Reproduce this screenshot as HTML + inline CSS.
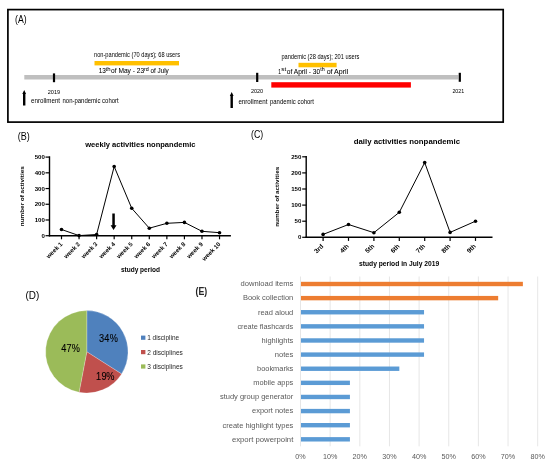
<!DOCTYPE html>
<html><head><meta charset="utf-8"><title>Figure</title>
<style>
html,body{margin:0;padding:0;background:#fff;}
svg{display:block;}
text{font-family:"Liberation Sans", Arial, sans-serif;}
</style></head>
<body>
<svg width="550" height="465" viewBox="0 0 550 465">
<rect width="550" height="465" fill="#fff"/>
<rect x="7.9" y="9.6" width="495.3" height="112.5" fill="none" stroke="#000" stroke-width="1.7"/>
<text x="15.1" y="22.7" font-size="10.4" textLength="11.6" lengthAdjust="spacingAndGlyphs">(A)</text>
<rect x="24.30" y="75.00" width="434.00" height="4.50" fill="#BFBFBF"/>
<rect x="52.90" y="73.40" width="2.20" height="8.80" fill="#000"/>
<rect x="256.10" y="72.80" width="2.20" height="9.20" fill="#000"/>
<rect x="458.70" y="72.80" width="2.20" height="9.00" fill="#000"/>
<rect x="94.50" y="61.00" width="84.50" height="4.40" fill="#FFC000"/>
<rect x="298.50" y="62.80" width="38.10" height="4.50" fill="#FFC000"/>
<rect x="271.30" y="82.20" width="139.60" height="5.40" fill="#FF0000"/>
<text x="94.0" y="56.8" font-size="6.5" textLength="86" lengthAdjust="spacingAndGlyphs">non-pandemic (70 days); 68 users</text>
<text x="98.65" y="73.3" font-size="7.3" stroke="#000" stroke-width="0.05" textLength="7.1" lengthAdjust="spacingAndGlyphs">13</text>
<text x="111.05" y="73.3" font-size="7.3" stroke="#000" stroke-width="0.05" textLength="33.0" lengthAdjust="spacingAndGlyphs">of May - 23</text>
<text x="150.45" y="73.3" font-size="7.3" stroke="#000" stroke-width="0.05" textLength="18.3" lengthAdjust="spacingAndGlyphs">of July</text>
<text x="105.55" y="70.6" font-size="4.6" stroke="#000" stroke-width="0.03" textLength="5.0" lengthAdjust="spacingAndGlyphs">th</text>
<text x="143.95" y="70.6" font-size="4.6" stroke="#000" stroke-width="0.03" textLength="4.8" lengthAdjust="spacingAndGlyphs">rd</text>
<text x="278.35" y="73.6" font-size="7.3" stroke="#000" stroke-width="0.05" textLength="2.7" lengthAdjust="spacingAndGlyphs">1</text>
<text x="286.75" y="73.6" font-size="7.3" stroke="#000" stroke-width="0.05" textLength="33.5" lengthAdjust="spacingAndGlyphs">of April - 30</text>
<text x="326.65" y="73.6" font-size="7.3" stroke="#000" stroke-width="0.05" textLength="21.6" lengthAdjust="spacingAndGlyphs">of April</text>
<text x="281.25" y="71.1" font-size="4.6" stroke="#000" stroke-width="0.03" textLength="4.9" lengthAdjust="spacingAndGlyphs">st</text>
<text x="320.15" y="71.1" font-size="4.6" stroke="#000" stroke-width="0.03" textLength="4.5" lengthAdjust="spacingAndGlyphs">th</text>
<text x="281.4" y="59.1" font-size="6.5" textLength="78" lengthAdjust="spacingAndGlyphs">pandemic (28 days); 201 users</text>
<text x="47.7" y="94.4" font-size="6.2" textLength="12.4" lengthAdjust="spacingAndGlyphs">2019</text>
<text x="250.9" y="93.1" font-size="6.2" textLength="12.3" lengthAdjust="spacingAndGlyphs">2020</text>
<text x="452.4" y="93.3" font-size="6.2" textLength="11.8" lengthAdjust="spacingAndGlyphs">2021</text>
<text x="31.1" y="102.7" font-size="6.3" textLength="29.0" lengthAdjust="spacingAndGlyphs">enrollment</text>
<text x="62.5" y="102.7" font-size="6.3" textLength="56.2" lengthAdjust="spacingAndGlyphs">non-pandemic cohort</text>
<text x="238.4" y="104.3" font-size="6.3" textLength="29.0" lengthAdjust="spacingAndGlyphs">enrollment</text>
<text x="270.0" y="104.3" font-size="6.3" textLength="44.0" lengthAdjust="spacingAndGlyphs">pandemic cohort</text>
<path d="M23.00 105.60V93.90H22.30L24.20 89.90L26.10 93.90H25.40V105.60Z" fill="#000"/>
<path d="M230.50 107.90V95.90H229.80L231.70 91.90L233.60 95.90H232.90V107.90Z" fill="#000"/>
<text x="17.8" y="139.6" font-size="10.4" textLength="12.0" lengthAdjust="spacingAndGlyphs">(B)</text>
<text x="85.2" y="146.9" font-size="7.0" font-weight="bold" textLength="110.3" lengthAdjust="spacingAndGlyphs">weekly activities nonpandemic</text>
<line x1="49.50" y1="156.30" x2="49.50" y2="236.40" stroke="#000" stroke-width="1.4"/>
<line x1="48.80" y1="235.70" x2="230.90" y2="235.70" stroke="#000" stroke-width="1.4"/>
<line x1="45.50" y1="235.70" x2="49.50" y2="235.70" stroke="#000" stroke-width="1.2"/>
<text x="44.8" y="237.79999999999998" font-size="6.1" text-anchor="end" font-weight="bold">0</text>
<line x1="45.50" y1="219.98" x2="49.50" y2="219.98" stroke="#000" stroke-width="1.2"/>
<text x="44.8" y="222.07999999999998" font-size="6.1" text-anchor="end" font-weight="bold">100</text>
<line x1="45.50" y1="204.26" x2="49.50" y2="204.26" stroke="#000" stroke-width="1.2"/>
<text x="44.8" y="206.35999999999999" font-size="6.1" text-anchor="end" font-weight="bold">200</text>
<line x1="45.50" y1="188.54" x2="49.50" y2="188.54" stroke="#000" stroke-width="1.2"/>
<text x="44.8" y="190.64" font-size="6.1" text-anchor="end" font-weight="bold">300</text>
<line x1="45.50" y1="172.82" x2="49.50" y2="172.82" stroke="#000" stroke-width="1.2"/>
<text x="44.8" y="174.92" font-size="6.1" text-anchor="end" font-weight="bold">400</text>
<line x1="45.50" y1="157.10" x2="49.50" y2="157.10" stroke="#000" stroke-width="1.2"/>
<text x="44.8" y="159.19999999999996" font-size="6.1" text-anchor="end" font-weight="bold">500</text>
<text x="23.6" y="196.2" font-size="6.0" text-anchor="middle" font-weight="bold" textLength="60" lengthAdjust="spacingAndGlyphs" transform="rotate(-90 23.6 196.2)">number of activities</text>
<line x1="61.50" y1="235.70" x2="61.50" y2="239.30" stroke="#000" stroke-width="1.2"/>
<text x="62.9" y="244.6" font-size="6.1" text-anchor="end" font-weight="bold" transform="rotate(-45 62.9 244.6)">week 1</text>
<line x1="79.06" y1="235.70" x2="79.06" y2="239.30" stroke="#000" stroke-width="1.2"/>
<text x="80.46000000000001" y="244.6" font-size="6.1" text-anchor="end" font-weight="bold" transform="rotate(-45 80.46000000000001 244.6)">week 2</text>
<line x1="96.62" y1="235.70" x2="96.62" y2="239.30" stroke="#000" stroke-width="1.2"/>
<text x="98.02000000000001" y="244.6" font-size="6.1" text-anchor="end" font-weight="bold" transform="rotate(-45 98.02000000000001 244.6)">week 3</text>
<line x1="114.18" y1="235.70" x2="114.18" y2="239.30" stroke="#000" stroke-width="1.2"/>
<text x="115.58" y="244.6" font-size="6.1" text-anchor="end" font-weight="bold" transform="rotate(-45 115.58 244.6)">week 4</text>
<line x1="131.74" y1="235.70" x2="131.74" y2="239.30" stroke="#000" stroke-width="1.2"/>
<text x="133.14000000000001" y="244.6" font-size="6.1" text-anchor="end" font-weight="bold" transform="rotate(-45 133.14000000000001 244.6)">week 5</text>
<line x1="149.30" y1="235.70" x2="149.30" y2="239.30" stroke="#000" stroke-width="1.2"/>
<text x="150.70000000000002" y="244.6" font-size="6.1" text-anchor="end" font-weight="bold" transform="rotate(-45 150.70000000000002 244.6)">week 6</text>
<line x1="166.86" y1="235.70" x2="166.86" y2="239.30" stroke="#000" stroke-width="1.2"/>
<text x="168.26" y="244.6" font-size="6.1" text-anchor="end" font-weight="bold" transform="rotate(-45 168.26 244.6)">week 7</text>
<line x1="184.42" y1="235.70" x2="184.42" y2="239.30" stroke="#000" stroke-width="1.2"/>
<text x="185.82" y="244.6" font-size="6.1" text-anchor="end" font-weight="bold" transform="rotate(-45 185.82 244.6)">week 8</text>
<line x1="201.98" y1="235.70" x2="201.98" y2="239.30" stroke="#000" stroke-width="1.2"/>
<text x="203.38" y="244.6" font-size="6.1" text-anchor="end" font-weight="bold" transform="rotate(-45 203.38 244.6)">week 9</text>
<line x1="219.54" y1="235.70" x2="219.54" y2="239.30" stroke="#000" stroke-width="1.2"/>
<text x="220.94" y="244.6" font-size="6.1" text-anchor="end" font-weight="bold" transform="rotate(-45 220.94 244.6)">week 10</text>
<polyline points="61.50,229.50 79.06,235.60 96.62,234.50 114.18,166.50 131.74,208.30 149.30,228.20 166.86,223.30 184.42,222.40 201.98,231.30 219.54,232.70" fill="none" stroke="#000" stroke-width="1.0"/>
<circle cx="61.50" cy="229.50" r="1.8" fill="#000"/>
<circle cx="79.06" cy="235.60" r="1.8" fill="#000"/>
<circle cx="96.62" cy="234.50" r="1.8" fill="#000"/>
<circle cx="114.18" cy="166.50" r="1.8" fill="#000"/>
<circle cx="131.74" cy="208.30" r="1.8" fill="#000"/>
<circle cx="149.30" cy="228.20" r="1.8" fill="#000"/>
<circle cx="166.86" cy="223.30" r="1.8" fill="#000"/>
<circle cx="184.42" cy="222.40" r="1.8" fill="#000"/>
<circle cx="201.98" cy="231.30" r="1.8" fill="#000"/>
<circle cx="219.54" cy="232.70" r="1.8" fill="#000"/>
<path d="M112.3 213.4H114.8V225.3H116.5L113.55 229.9L110.6 225.3H112.3Z" fill="#000"/>
<text x="120.9" y="272.1" font-size="6.8" font-weight="bold" textLength="39.1" lengthAdjust="spacingAndGlyphs">study period</text>
<text x="251.0" y="137.6" font-size="10.4" textLength="12.2" lengthAdjust="spacingAndGlyphs">(C)</text>
<text x="353.7" y="144.3" font-size="7.0" font-weight="bold" textLength="106.4" lengthAdjust="spacingAndGlyphs">daily activities nonpandemic</text>
<line x1="306.20" y1="156.00" x2="306.20" y2="238.00" stroke="#000" stroke-width="1.4"/>
<line x1="305.50" y1="237.30" x2="492.50" y2="237.30" stroke="#000" stroke-width="1.4"/>
<line x1="302.20" y1="237.30" x2="306.20" y2="237.30" stroke="#000" stroke-width="1.2"/>
<text x="301.3" y="239.4" font-size="6.1" text-anchor="end" font-weight="bold">0</text>
<line x1="302.20" y1="221.20" x2="306.20" y2="221.20" stroke="#000" stroke-width="1.2"/>
<text x="301.3" y="223.3" font-size="6.1" text-anchor="end" font-weight="bold">50</text>
<line x1="302.20" y1="205.10" x2="306.20" y2="205.10" stroke="#000" stroke-width="1.2"/>
<text x="301.3" y="207.20000000000002" font-size="6.1" text-anchor="end" font-weight="bold">100</text>
<line x1="302.20" y1="189.00" x2="306.20" y2="189.00" stroke="#000" stroke-width="1.2"/>
<text x="301.3" y="191.1" font-size="6.1" text-anchor="end" font-weight="bold">150</text>
<line x1="302.20" y1="172.90" x2="306.20" y2="172.90" stroke="#000" stroke-width="1.2"/>
<text x="301.3" y="175.0" font-size="6.1" text-anchor="end" font-weight="bold">200</text>
<line x1="302.20" y1="156.80" x2="306.20" y2="156.80" stroke="#000" stroke-width="1.2"/>
<text x="301.3" y="158.9" font-size="6.1" text-anchor="end" font-weight="bold">250</text>
<text x="279.5" y="196.8" font-size="6.0" text-anchor="middle" font-weight="bold" textLength="60" lengthAdjust="spacingAndGlyphs" transform="rotate(-90 279.5 196.8)">number of activities</text>
<line x1="323.10" y1="237.30" x2="323.10" y2="240.90" stroke="#000" stroke-width="1.2"/>
<text x="323.90000000000003" y="246.6" font-size="6.5" text-anchor="end" font-weight="bold" transform="rotate(-45 323.90000000000003 246.6)">3rd</text>
<line x1="348.50" y1="237.30" x2="348.50" y2="240.90" stroke="#000" stroke-width="1.2"/>
<text x="349.3" y="246.6" font-size="6.5" text-anchor="end" font-weight="bold" transform="rotate(-45 349.3 246.6)">4th</text>
<line x1="373.90" y1="237.30" x2="373.90" y2="240.90" stroke="#000" stroke-width="1.2"/>
<text x="374.70000000000005" y="246.6" font-size="6.5" text-anchor="end" font-weight="bold" transform="rotate(-45 374.70000000000005 246.6)">5th</text>
<line x1="399.30" y1="237.30" x2="399.30" y2="240.90" stroke="#000" stroke-width="1.2"/>
<text x="400.1" y="246.6" font-size="6.5" text-anchor="end" font-weight="bold" transform="rotate(-45 400.1 246.6)">6th</text>
<line x1="424.70" y1="237.30" x2="424.70" y2="240.90" stroke="#000" stroke-width="1.2"/>
<text x="425.50000000000006" y="246.6" font-size="6.5" text-anchor="end" font-weight="bold" transform="rotate(-45 425.50000000000006 246.6)">7th</text>
<line x1="450.10" y1="237.30" x2="450.10" y2="240.90" stroke="#000" stroke-width="1.2"/>
<text x="450.90000000000003" y="246.6" font-size="6.5" text-anchor="end" font-weight="bold" transform="rotate(-45 450.90000000000003 246.6)">8th</text>
<line x1="475.50" y1="237.30" x2="475.50" y2="240.90" stroke="#000" stroke-width="1.2"/>
<text x="476.3" y="246.6" font-size="6.5" text-anchor="end" font-weight="bold" transform="rotate(-45 476.3 246.6)">9th</text>
<polyline points="323.10,234.40 348.50,224.50 373.90,232.70 399.30,212.30 424.70,162.60 450.10,232.40 475.50,221.20" fill="none" stroke="#000" stroke-width="1.0"/>
<circle cx="323.10" cy="234.40" r="1.8" fill="#000"/>
<circle cx="348.50" cy="224.50" r="1.8" fill="#000"/>
<circle cx="373.90" cy="232.70" r="1.8" fill="#000"/>
<circle cx="399.30" cy="212.30" r="1.8" fill="#000"/>
<circle cx="424.70" cy="162.60" r="1.8" fill="#000"/>
<circle cx="450.10" cy="232.40" r="1.8" fill="#000"/>
<circle cx="475.50" cy="221.20" r="1.8" fill="#000"/>
<text x="359.0" y="266.3" font-size="6.8" font-weight="bold" textLength="80.2" lengthAdjust="spacingAndGlyphs">study period in July 2019</text>
<text x="25.5" y="299.2" font-size="10.4" textLength="13.8" lengthAdjust="spacingAndGlyphs">(D)</text>
<path d="M86.8 351.8L86.80 310.60A41.2 41.2 0 0 1 121.59 373.88Z" fill="#4F81BD" stroke="#fff" stroke-width="0.5" stroke-opacity="0.45"/>
<path d="M86.8 351.8L121.59 373.88A41.2 41.2 0 0 1 79.08 392.27Z" fill="#C0504D" stroke="#fff" stroke-width="0.5" stroke-opacity="0.45"/>
<path d="M86.8 351.8L79.08 392.27A41.2 41.2 0 0 1 86.80 310.60Z" fill="#9BBB59" stroke="#fff" stroke-width="0.5" stroke-opacity="0.45"/>
<text x="98.91 104.84 110.93" y="342.3" font-size="10.2" stroke="#000" stroke-width="0.1" transform="translate(99.3 0) scale(0.9 1) translate(-99.3 0)">34%</text>
<text x="61.27 67.09 73.02" y="352.0" font-size="10.2" stroke="#000" stroke-width="0.1" transform="translate(61.5 0) scale(0.9 1) translate(-61.5 0)">47%</text>
<text x="96.02 102.10 107.43" y="380.0" font-size="10.2" stroke="#000" stroke-width="0.1" transform="translate(96.8 0) scale(0.9 1) translate(-96.8 0)">19%</text>
<rect x="141.00" y="335.60" width="4.40" height="4.20" fill="#4F81BD"/>
<text x="147.2" y="340.40000000000003" font-size="7.2" fill="#262626" textLength="32.0" lengthAdjust="spacingAndGlyphs">1 discipline</text>
<rect x="141.00" y="350.00" width="4.40" height="4.20" fill="#C0504D"/>
<text x="147.2" y="354.8" font-size="7.2" fill="#262626" textLength="35.6" lengthAdjust="spacingAndGlyphs">2 disciplines</text>
<rect x="141.00" y="364.40" width="4.40" height="4.20" fill="#9BBB59"/>
<text x="147.2" y="369.20000000000005" font-size="7.2" fill="#262626" textLength="35.6" lengthAdjust="spacingAndGlyphs">3 disciplines</text>
<text x="195.6" y="294.7" font-size="10.2" font-weight="bold" fill="#262626" textLength="11.7" lengthAdjust="spacingAndGlyphs">(E)</text>
<line x1="300.50" y1="276.50" x2="300.50" y2="446.30" stroke="#E0E0E0" stroke-width="0.8"/>
<line x1="330.15" y1="276.50" x2="330.15" y2="446.30" stroke="#E0E0E0" stroke-width="0.8"/>
<line x1="359.80" y1="276.50" x2="359.80" y2="446.30" stroke="#E0E0E0" stroke-width="0.8"/>
<line x1="389.45" y1="276.50" x2="389.45" y2="446.30" stroke="#E0E0E0" stroke-width="0.8"/>
<line x1="419.10" y1="276.50" x2="419.10" y2="446.30" stroke="#E0E0E0" stroke-width="0.8"/>
<line x1="448.75" y1="276.50" x2="448.75" y2="446.30" stroke="#E0E0E0" stroke-width="0.8"/>
<line x1="478.40" y1="276.50" x2="478.40" y2="446.30" stroke="#E0E0E0" stroke-width="0.8"/>
<line x1="508.05" y1="276.50" x2="508.05" y2="446.30" stroke="#E0E0E0" stroke-width="0.8"/>
<line x1="537.70" y1="276.50" x2="537.70" y2="446.30" stroke="#E0E0E0" stroke-width="0.8"/>
<rect x="301.00" y="281.80" width="221.87" height="4.40" fill="#ED7D31"/>
<text x="293.3" y="286.3" font-size="8.0" text-anchor="end" fill="#595959" textLength="52.8" lengthAdjust="spacingAndGlyphs">download items</text>
<rect x="301.00" y="295.92" width="197.17" height="4.40" fill="#ED7D31"/>
<text x="293.3" y="300.42" font-size="8.0" text-anchor="end" fill="#595959" textLength="50.4" lengthAdjust="spacingAndGlyphs">Book collection</text>
<rect x="301.00" y="310.04" width="123.04" height="4.40" fill="#5B9BD5"/>
<text x="293.3" y="314.54" font-size="8.0" text-anchor="end" fill="#595959" textLength="35.4" lengthAdjust="spacingAndGlyphs">read aloud</text>
<rect x="301.00" y="324.16" width="123.04" height="4.40" fill="#5B9BD5"/>
<text x="293.3" y="328.66" font-size="8.0" text-anchor="end" fill="#595959" textLength="55.9" lengthAdjust="spacingAndGlyphs">create flashcards</text>
<rect x="301.00" y="338.28" width="123.04" height="4.40" fill="#5B9BD5"/>
<text x="293.3" y="342.78000000000003" font-size="8.0" text-anchor="end" fill="#595959" textLength="31.7" lengthAdjust="spacingAndGlyphs">highlights</text>
<rect x="301.00" y="352.40" width="123.04" height="4.40" fill="#5B9BD5"/>
<text x="293.3" y="356.9" font-size="8.0" text-anchor="end" fill="#595959" textLength="18.6" lengthAdjust="spacingAndGlyphs">notes</text>
<rect x="301.00" y="366.52" width="98.33" height="4.40" fill="#5B9BD5"/>
<text x="293.3" y="371.02" font-size="8.0" text-anchor="end" fill="#595959" textLength="36.3" lengthAdjust="spacingAndGlyphs">bookmarks</text>
<rect x="301.00" y="380.64" width="48.92" height="4.40" fill="#5B9BD5"/>
<text x="293.3" y="385.14" font-size="8.0" text-anchor="end" fill="#595959" textLength="40.0" lengthAdjust="spacingAndGlyphs">mobile apps</text>
<rect x="301.00" y="394.76" width="48.92" height="4.40" fill="#5B9BD5"/>
<text x="293.3" y="399.26" font-size="8.0" text-anchor="end" fill="#595959" textLength="73.4" lengthAdjust="spacingAndGlyphs">study group generator</text>
<rect x="301.00" y="408.88" width="48.92" height="4.40" fill="#5B9BD5"/>
<text x="293.3" y="413.38" font-size="8.0" text-anchor="end" fill="#595959" textLength="41.3" lengthAdjust="spacingAndGlyphs">export notes</text>
<rect x="301.00" y="423.00" width="48.92" height="4.40" fill="#5B9BD5"/>
<text x="293.3" y="427.5" font-size="8.0" text-anchor="end" fill="#595959" textLength="70.8" lengthAdjust="spacingAndGlyphs">create highlight types</text>
<rect x="301.00" y="437.12" width="48.92" height="4.40" fill="#5B9BD5"/>
<text x="293.3" y="441.62" font-size="8.0" text-anchor="end" fill="#595959" textLength="61.4" lengthAdjust="spacingAndGlyphs">export powerpoint</text>
<text x="300.5" y="458.9" font-size="7.2" text-anchor="middle" fill="#595959">0%</text>
<text x="330.15" y="458.9" font-size="7.2" text-anchor="middle" fill="#595959">10%</text>
<text x="359.8" y="458.9" font-size="7.2" text-anchor="middle" fill="#595959">20%</text>
<text x="389.45" y="458.9" font-size="7.2" text-anchor="middle" fill="#595959">30%</text>
<text x="419.1" y="458.9" font-size="7.2" text-anchor="middle" fill="#595959">40%</text>
<text x="448.75" y="458.9" font-size="7.2" text-anchor="middle" fill="#595959">50%</text>
<text x="478.4" y="458.9" font-size="7.2" text-anchor="middle" fill="#595959">60%</text>
<text x="508.04999999999995" y="458.9" font-size="7.2" text-anchor="middle" fill="#595959">70%</text>
<text x="537.7" y="458.9" font-size="7.2" text-anchor="middle" fill="#595959">80%</text>
</svg>
</body></html>
